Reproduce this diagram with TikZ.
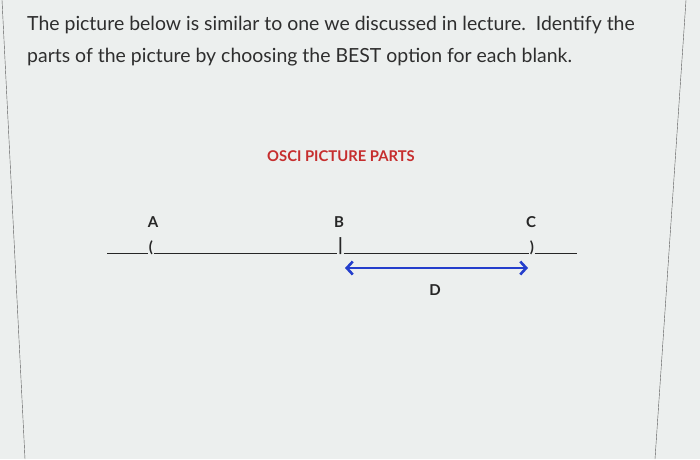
\documentclass[tikz,border=0pt]{standalone}
\usepackage{fontspec}
\setmainfont{Lato}
\usetikzlibrary{arrows.meta}
\definecolor{mycolor1}{RGB}{198,46,46}
\definecolor{mycolor2}{RGB}{36,62,204}
\definecolor{mycolor3}{RGB}{236,239,238}
\tikzset{lbl/.style={font=\bfseries\fontsize{15}{17}\selectfont, text=black!85, inner sep=0pt},
         tickmark/.style={font=\bfseries\fontsize{15}{17}\selectfont, text=black!85, inner sep=0.5pt}}

\begin{document}
\begin{tikzpicture}[x=1pt,y=-1pt]
\fill [mycolor3] (0,0) rectangle (700,459);
\useasboundingbox (0,0) rectangle (700,459);
\draw [gray!70!black, thin] (2,0) --(25,459);
\draw [gray!70!black, thin] (686,0) --(655,459);

\node [anchor=base west, inner sep=0pt, font=\fontsize{19.45}{24}\selectfont, text=black!82] (q1) at (27,30) {The picture below is similar to one we discussed in lecture.\ \ Identify the};
\node [anchor=base west, inner sep=0pt, font=\fontsize{19.45}{24}\selectfont, text=black!82] (q2) at (27,62) {parts of the picture by choosing the BEST option for each blank.};

\node [font=\bfseries\fontsize{14.8}{17}\selectfont, text=mycolor1] (title) at (341,156) {OSCI PICTURE PARTS};

\node [lbl] (A) at (153,222) {A};
\node [lbl] (B) at (339,222) {B};
\node [lbl] (C) at (531,222) {C};
\node [lbl] (D) at (435,290) {D};

\coordinate (l0) at (107,253.5);
\coordinate (l1) at (577,253.5);
\node [tickmark] (mA) at (151,248) {(};
\node [tickmark, font=\bfseries\fontsize{18}{20}\selectfont] (mB) at (340.5,246) {|};
\node [tickmark] (mC) at (532,248) {)};

\draw [black!85, line width=1.5pt] (l0) --(l0 -| mA.west);
\draw [black!85, line width=1.5pt] (l0 -| mA.east) --(l0 -| mB.west);
\draw [black!85, line width=1.5pt] (l0 -| mB.east) --(l0 -| mC.west);
\draw [black!85, line width=1.5pt] (l0 -| mC.east) --(l1);

\coordinate (d0) at (345,268);
\coordinate (d1) at (528,268);
\draw [mycolor2, line width=2.6pt, {Straight Barb[length=6pt,width=13pt]}-{Straight Barb[length=6pt,width=13pt]}] (d0) --(d1);
\end{tikzpicture}
\end{document}
